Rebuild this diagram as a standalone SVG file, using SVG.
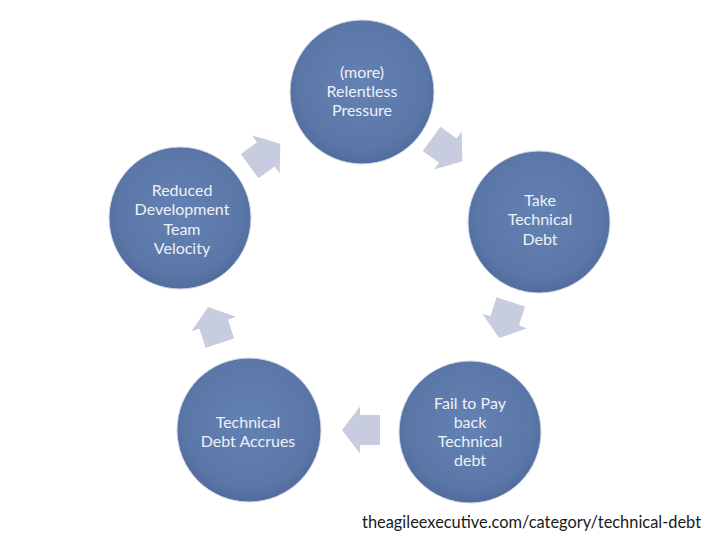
<svg xmlns="http://www.w3.org/2000/svg" width="728" height="546" viewBox="0 0 728 546">
  <defs>
    <radialGradient id="cg" cx="50%" cy="45%" r="55%">
      <stop offset="0%" stop-color="#6381b3"/>
      <stop offset="80%" stop-color="#5b77a8"/>
      <stop offset="100%" stop-color="#516c9c"/>
    </radialGradient>
    <path id="arr" d="M19,0 L1,23.5 L1,15 L-19,15 L-19,-15 L1,-15 L1,-23.5 Z"/>
  </defs>
  <style>
    .node circle { fill: url(#cg); stroke: #d3d9e6; stroke-width: 1; }
    .node text { font-family: Lato, "Open Sans", "Liberation Sans", sans-serif; font-size: 16px; fill: #eef1f7; text-anchor: middle; }
    .conn use { fill: #c7cddf; }
    .foot { font-family: Lato, "Open Sans", "Liberation Sans", sans-serif; font-size: 16.4px; fill: #1a1a1a; }
  </style>
  <rect width="728" height="546" fill="#ffffff"/>

  <g id="connectors" class="conn">
    <use href="#arr" transform="translate(447,150) rotate(36)"/>
    <use href="#arr" transform="translate(505,320) rotate(108)"/>
    <use href="#arr" transform="translate(361,430) rotate(180)"/>
    <use href="#arr" transform="translate(214,325) rotate(252)"/>
    <use href="#arr" transform="translate(265,155) rotate(324)"/>
  </g>

  <g id="node-pressure" class="node">
    <circle cx="362" cy="92" r="72"/>
    <text x="362" y="77.5">(more)</text>
    <text x="362" y="96.5">Relentless</text>
    <text x="362" y="115.5">Pressure</text>
  </g>

  <g id="node-take" class="node">
    <circle cx="539" cy="222" r="71"/>
    <text x="540" y="205.5">Take</text>
    <text x="540" y="225">Technical</text>
    <text x="540" y="244.5">Debt</text>
  </g>

  <g id="node-fail" class="node">
    <circle cx="470" cy="432" r="71"/>
    <text x="470" y="408.5">Fail to Pay</text>
    <text x="470" y="427.5">back</text>
    <text x="470" y="446.5">Technical</text>
    <text x="470" y="465.5">debt</text>
  </g>

  <g id="node-accrues" class="node">
    <circle cx="249" cy="430" r="72"/>
    <text x="248" y="427.5">Technical</text>
    <text x="248" y="446.5">Debt Accrues</text>
  </g>

  <g id="node-velocity" class="node">
    <circle cx="180" cy="218" r="71"/>
    <text x="182" y="195.5">Reduced</text>
    <text x="182" y="215">Development</text>
    <text x="182" y="234.5">Team</text>
    <text x="182" y="254">Velocity</text>
  </g>

  <text class="foot" x="362" y="528">theagileexecutive.com/category/technical-debt</text>
</svg>
